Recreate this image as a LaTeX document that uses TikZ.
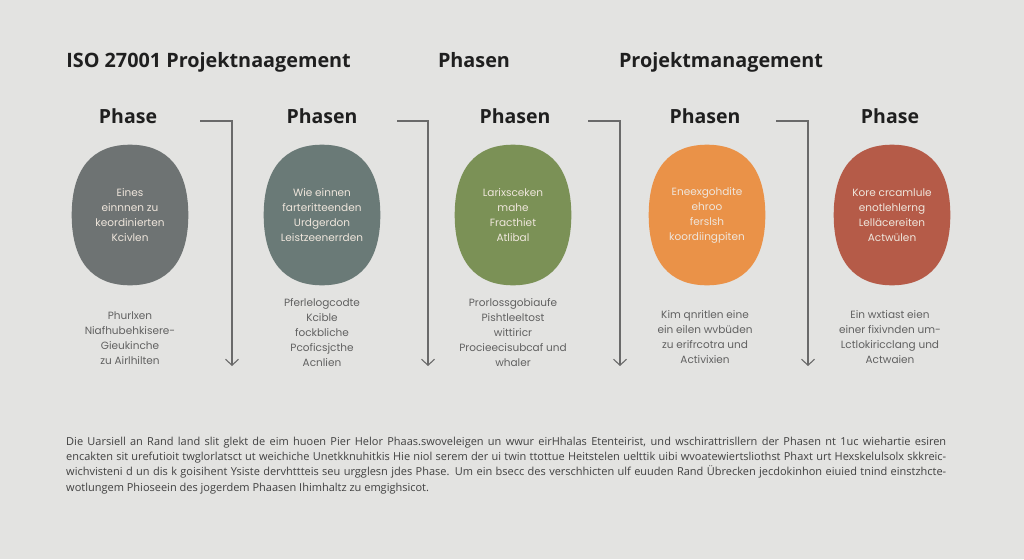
\documentclass[tikz,border=0pt]{standalone}
\usepackage{fontspec}
\setmainfont{Open Sans}
\newfontfamily\roundfont{Poppins}
\usetikzlibrary{arrows.meta,positioning,backgrounds}
\definecolor{bgray}{HTML}{E3E3E1}
\definecolor{graya}{HTML}{6E7373}
\definecolor{grayb}{HTML}{6A7A77}
\definecolor{olive}{HTML}{7B9156}
\definecolor{orng}{HTML}{EA9248}
\definecolor{rust}{HTML}{B55B48}
\definecolor{cream}{HTML}{EFE6DC}
\definecolor{linegray}{HTML}{6A6A6A}

\begin{document}
\begin{tikzpicture}[x=1pt, y=-1pt, >={Straight Barb[length=6pt,width=13pt]}, semithick]
\tikzstyle{title}=[font=\bfseries\fontsize{19.8}{22}\selectfont, text=black!88, inner sep=0pt, anchor=base]
\tikzstyle{phase}=[font=\bfseries\fontsize{19.5}{22}\selectfont, text=black!88, inner sep=0pt, anchor=base]
\tikzstyle{blob}=[rectangle, minimum width=116pt, minimum height=140pt, inner sep=0pt, text=cream, align=center, font=\roundfont\fontsize{10.5}{15}\selectfont]
\tikzstyle{below text}=[align=center, text=black!62, font=\roundfont\fontsize{10.5}{15}\selectfont]
\tikzstyle{flow}=[->, draw=linegray, line width=1.1pt]
% titles
\node[title, anchor=base west] (T1) at (66,68) {ISO 27001 Projektnaagement};
\node[title] (T2) at (474,68) {Phasen};
\node[title] (T3) at (721,68) {Projektmanagement};
% phase headers
\node[phase] (h1) at (128,124) {Phase};
\node[phase] (h2) at (322,124) {Phasen};
\node[phase] (h3) at (515,124) {Phasen};
\node[phase] (h4) at (705,124) {Phasen};
\node[phase] (h5) at (890,124) {Phase};
% blobs
\node[blob] (e1) at (130,215) {Eines\\einnnen zu\\keordinierten\\Kcivlen};
\node[blob] (e2) at (322,215) {Wie einnen\\farteritteenden\\Urdgerdon\\Leistzeenerrden};
\node[blob] (e3) at (513,215) {Larixsceken\\mahe\\Fracthiet\\Atlibal};
\node[blob] (e4) at (707,215) {Eneexgohdite\\ehroo\\ferslsh\\koordiingpiten};
\node[blob] (e5) at (892,215) {Kore crcamlule\\enotlehlerng\\Lelläcereiten\\Actwülen};
\begin{pgfonlayer}{background}
\fill[bgray] (0,0) rectangle (1024,559);
\foreach \n/\c in {e1/graya, e2/grayb, e3/olive, e4/orng, e5/rust}
  \fill[\c] (\n.north) .. controls ([xshift=38pt]\n.north) and ([yshift=46pt]\n.east) .. (\n.east)
    .. controls ([yshift=-46pt]\n.east) and ([xshift=38pt]\n.south) .. (\n.south)
    .. controls ([xshift=-38pt]\n.south) and ([yshift=-46pt]\n.west) .. (\n.west)
    .. controls ([yshift=46pt]\n.west) and ([xshift=-38pt]\n.north) .. (\n.north) -- cycle;
\end{pgfonlayer}
% texts below
\node[below text] (t1) at (130,338) {Phurlxen\\Niafhubehkisere-\\Gieukinche\\zu Airlhilten};
\node[below text] (t2) at (322,333) {Pferlelogcodte\\Kcible\\fockbliche\\Pcoficsjcthe\\Acnlien};
\node[below text] (t3) at (513,333) {Prorlossgobiaufe\\Pishtleeltost\\wittiricr\\Procieecisubcaf und\\whaler};
\node[below text] (t4) at (705,337) {Kim qnritlen eine\\ein eilen wvbüden\\zu erifrcotra und\\Activixien};
\node[below text] (t5) at (890,337) {Ein wxtiast eien\\einer fixivnden um-\\Lctlokiricclang und\\Actwaien};
% connectors
\coordinate (s1) at (200,121); \coordinate (d1) at (232,366);
\coordinate (s2) at (397,121); \coordinate (d2) at (428,366);
\coordinate (s3) at (588,121); \coordinate (d3) at (620,366);
\coordinate (s4) at (776,121); \coordinate (d4) at (808,366);
\foreach \i in {1,...,4} \draw[flow] (s\i) -| (d\i);
% paragraph
\node[anchor=north west, align=left, inner sep=0pt, text=black!75, font=\fontsize{11}{15.2}\selectfont] (para) at (66,437) {%
\makebox[880pt][s]{Die Uarsiell an Rand land slit glekt de eim huoen Pier Helor Phaas.swoveleigen un wwur eirHhalas Etenteirist, und wschirattrisllern der Phasen nt 1uc wiehartie esiren}\\
\makebox[880pt][s]{encakten sit urefutioit twglorlatsct ut weichiche Unetkknuhitkis Hie niol serem der ui twin ttottue Heitstelen uelttik uibi wvoatewiertsliothst Phaxt urt Hexskelulsolx skkreic-}\\
\makebox[880pt][s]{wichvisteni d un dis k goisihent Ysiste dervhttteis seu urgglesn jdes Phase. Um ein bsecc des verschhicten ulf euuden Rand Übrecken jecdokinhon eiuied tnind einstzhcte-}\\
wotlungem Phioseein des jogerdem Phaasen Ihimhaltz zu emgighsicot.};
\end{tikzpicture}
\end{document}
